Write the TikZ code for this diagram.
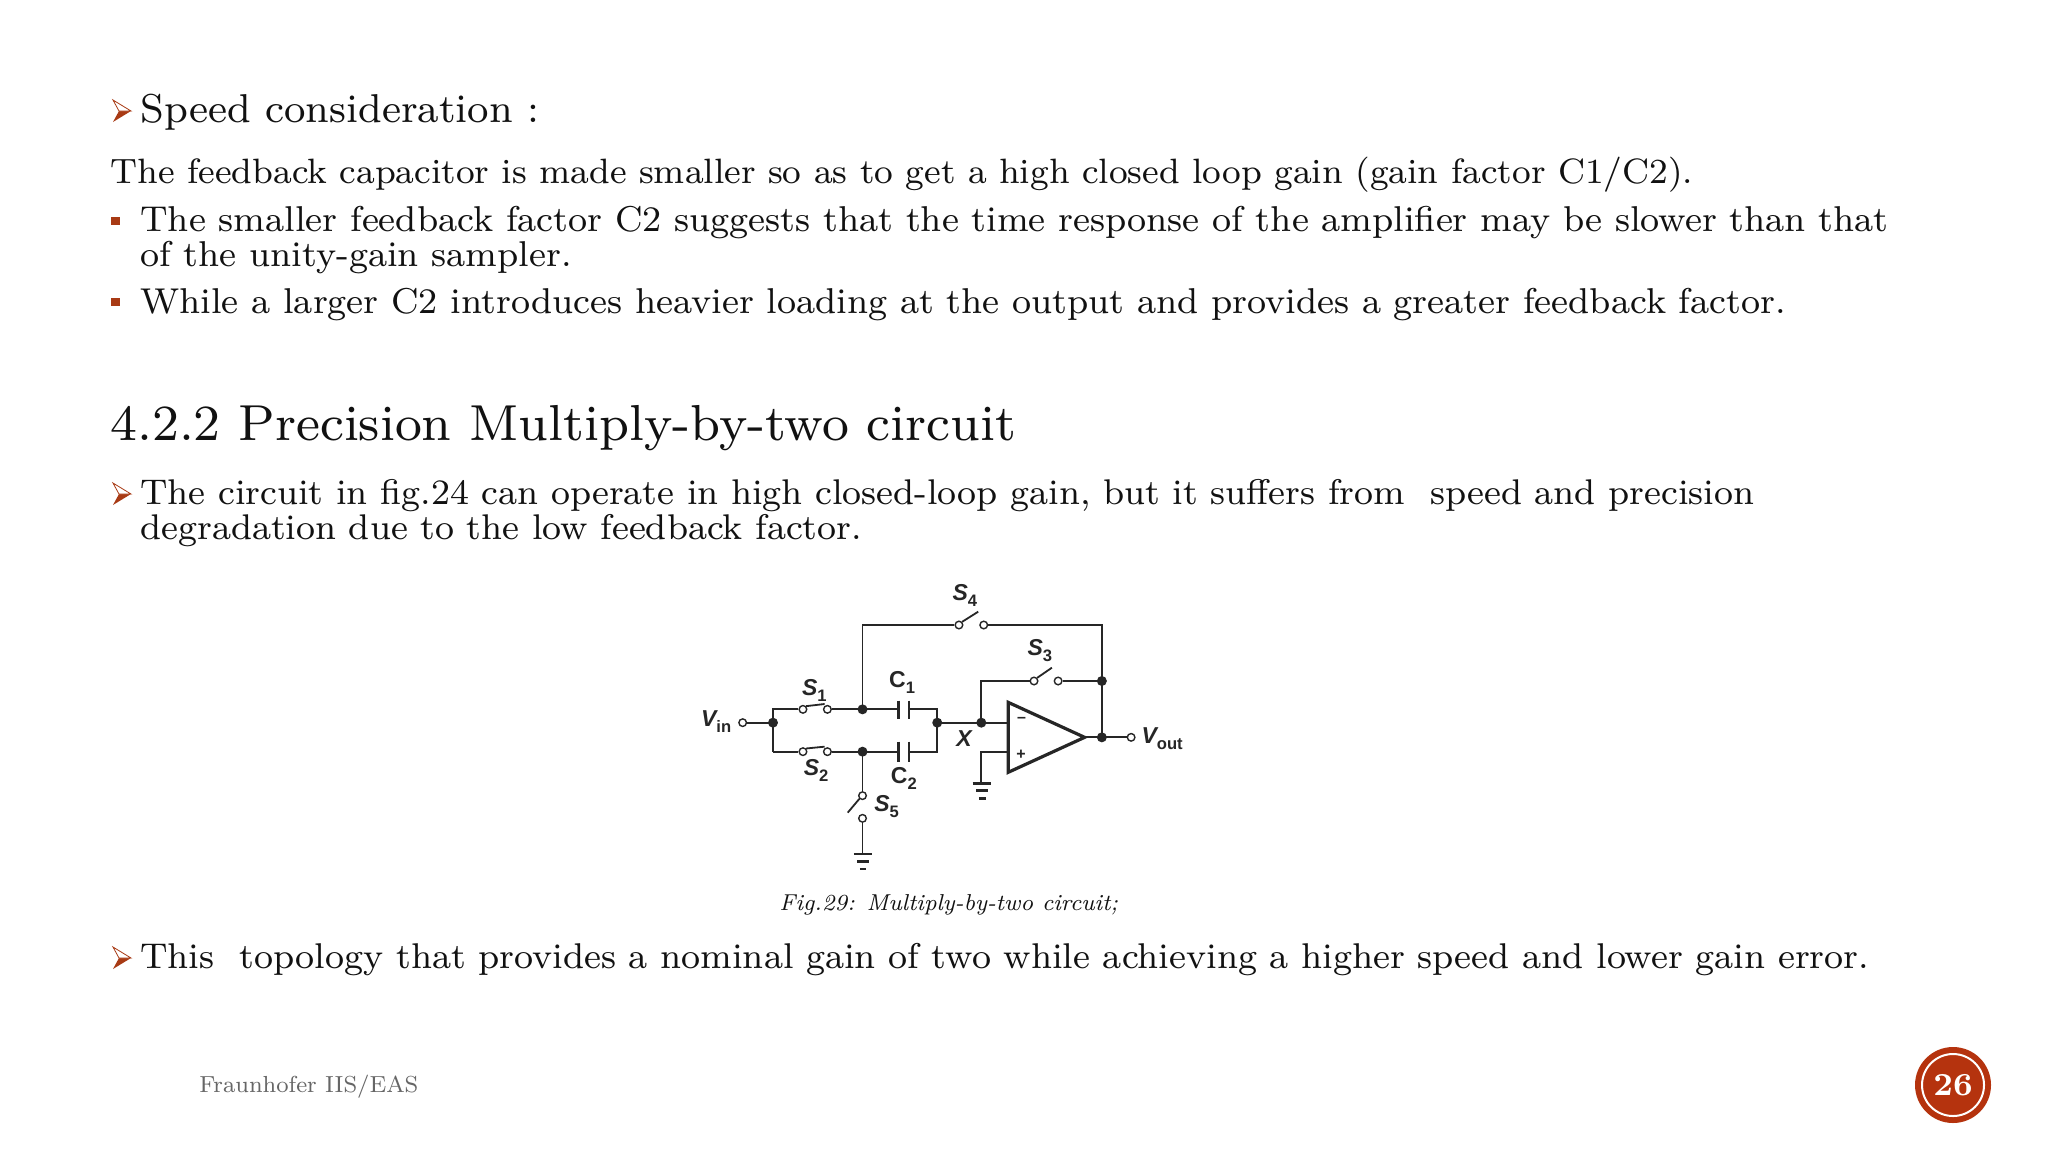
\documentclass[tikz,border=0pt]{standalone}
\usepackage{fontspec}
\setmainfont{lmroman8-regular}[Extension=.otf,ItalicFont=lmroman8-italic,BoldFont=lmroman8-bold]
\newfontfamily\lblfont{Liberation Sans}
\definecolor{rust}{HTML}{A83A14}
\definecolor{badge}{HTML}{B5330E}
\definecolor{ink}{HTML}{111111}
\definecolor{cir}{HTML}{262626}
\newcommand{\clabel}[2]{{\lblfont\bfseries\itshape #1}\raisebox{-.26em}{\lblfont\bfseries\fontsize{8.3}{9}\selectfont #2}}
\newcommand{\cupr}[2]{{\lblfont\bfseries #1}\raisebox{-.26em}{\lblfont\bfseries\fontsize{8.3}{9}\selectfont #2}}
\tikzset{
  txt/.style={anchor=base west,inner sep=0pt,text=ink,font=\fontsize{17.95}{21}\selectfont},
  wire/.style={draw=cir,line width=0.9pt},
  plate/.style={draw=cir,line width=1.3pt},
  dotn/.style={circle,fill=cir,draw=none,minimum size=5pt,inner sep=0pt},
  term/.style={circle,fill=white,draw=cir,line width=0.7pt,minimum size=3.8pt,inner sep=0pt},
  clab/.style={inner sep=0pt,text=cir,font=\fontsize{11.5}{13}\selectfont},
  brownsq/.style={fill=rust,draw=none},
  pics/chevron/.style={code={
    \fill[rust] (-8,11) -- (10,0) -- (-2,0) -- cycle;
    \draw[rust,line width=0.4pt,fill=white,line join=miter] (-8,-11) -- (10,0) -- (-2,0) -- cycle;
  }}
}
\begin{document}
\begin{tikzpicture}[x=0.5pt,y=-0.5pt]
\useasboundingbox (0,0) rectangle (2048,1152);
\fill[white] (0,0) rectangle (2048,1152);
\pic at (121,111) {chevron};
\node[txt,font=\fontsize{20.15}{24}\selectfont] (t1) at (140,122) {Speed consideration :};
\node[txt,font=\fontsize{17.6}{21}\selectfont] (t2) at (110,183) {The feedback capacitor is made smaller so as to get a high closed loop gain (gain factor C1/C2).};
\fill[brownsq] (111,217) rectangle (120,225);
\node[txt] (t3) at (140,231) {The smaller feedback factor C2 suggests that the time response of the amplifier may be slower than that};
\node[txt] (t4) at (140,266) {of the unity-gain sampler.};
\fill[brownsq] (111,298) rectangle (120,306);
\node[txt] (t5) at (140,313) {While a larger C2 introduces heavier loading at the output and provides a greater feedback factor.};
\node[txt,font=\fontsize{25.3}{29}\selectfont] (h) at (110,440) {4.2.2 Precision Multiply-by-two circuit};
\pic at (121,494) {chevron};
\node[txt,font=\fontsize{17.85}{21}\selectfont] (t6) at (140,504) {The circuit in fig.24 can operate in high closed-loop gain, but it suffers from\ \ speed and precision};
\node[txt,font=\fontsize{17.85}{21}\selectfont] (t7) at (140,539) {degradation due to the low feedback factor.};
\node[txt,font=\fontsize{11.5}{14}\selectfont\itshape] (cap) at (779,910) {Fig.29: Multiply-by-two circuit;};
\pic at (121,958) {chevron};
\node[txt,font=\fontsize{17.9}{21}\selectfont] (t8) at (140,968) {This\ \ topology that provides a nominal gain of two while achieving a higher speed and lower gain error.};
\node[txt,text=black!60,font=\fontsize{11.6}{14}\selectfont] (foot) at (199,1092) {Fraunhofer IIS/EAS};
\node[circle,fill=badge,draw=none,minimum size=38pt,inner sep=0pt] (badge) at (1953,1085) {};
\node[circle,draw=white,line width=1pt,minimum size=31pt,inner sep=0pt] (ring) at (1953,1085) {};
\node[inner sep=0pt,text=white,font=\fontsize{16}{18}\selectfont\bfseries] (num) at (1953,1085) {26};
% circuit: coordinates measured on a zoomed crop
\begin{scope}[shift={(680,570)},x=0.5pt/2.904,y=-0.5pt/3]
\coordinate (nVin) at (270,458);
\coordinate (ub) at (270,418);
\coordinate (lb) at (270,545);
\coordinate (nA) at (530,418);
\coordinate (nB) at (530,545);
\coordinate (ur) at (747,418);
\coordinate (lr) at (747,545);
\coordinate (nR) at (747,458);
\coordinate (nX) at (875,458);
\coordinate (nF) at (1225,333);
\coordinate (nO) at (1225,502);
\coordinate (oa) at (953,397);
\coordinate (ob) at (953,607);
\coordinate (oc) at (1175,502);
\coordinate (tl) at (530,165);
\coordinate (tr) at (1225,165);
\coordinate (xu) at (875,333);
\coordinate (pi) at (953,545);
\coordinate (pc) at (875,545);
\coordinate (g1) at (875,640);
\coordinate (g2) at (530,852);
\coordinate (c1l) at (635,418);
\coordinate (c1r) at (665,418);
\coordinate (c2l) at (635,545);
\coordinate (c2r) at (665,545);
\coordinate (mi) at (953,458);
% terminals
\node[term] (tVin) at (182,458) {};
\node[term] (tVout) at (1310,502) {};
\node[term] (s1a) at (357,418) {};
\node[term] (s1b) at (428,418) {};
\node[term] (s2a) at (357,545) {};
\node[term] (s2b) at (428,545) {};
\node[term] (s3a) at (1028,333) {};
\node[term] (s3b) at (1098,333) {};
\node[term] (s4a) at (810,165) {};
\node[term] (s4b) at (882,165) {};
\node[term] (s5a) at (530,677) {};
\node[term] (s5b) at (530,745) {};
% wires
\draw[wire] (tVin) -- (nVin);
\draw[wire] (nR) -- (nX) -- (mi);
\draw[wire] (lb) -- (ub) -- (s1a);
\draw[wire] (s1b) -- (nA) -- (c1l);
\draw[wire] (c1r) -- (ur) -- (lr) -- (c2r);
\draw[wire] (lb) -- (s2a);
\draw[wire] (s2b) -- (nB) -- (c2l);
\draw[wire] (nA) -- (tl) -- (s4a);
\draw[wire] (s4b) -- (tr) -- (nO);
\draw[wire] (nX) -- (xu) -- (s3a);
\draw[wire] (s3b) -- (nF);
\draw[wire] (oc) -- (nO) -- (tVout);
\draw[wire] (nB) -- (s5a);
\draw[wire] (s5b) -- (g2);
\draw[wire] (pi) -- (pc) -- (g1);
% capacitor plates
\draw[plate] (635,392) -- (635,448);
\draw[plate] (665,392) -- (665,448);
\draw[plate] (635,515) -- (635,575);
\draw[plate] (665,515) -- (665,575);
% switch blades
\draw[wire] (s1a.north east) -- (420,402);
\draw[wire] (s2a.north east) -- (420,530);
\draw[wire] (s3a.north east) -- (1080,293);
\draw[wire] (s4a.north east) -- (866,125);
\draw[wire] (s5a.south west) -- (487,728);
% grounds
\draw[plate] (850,640) -- (903,640);
\draw[plate] (860,662) -- (893,662);
\draw[plate] (868,685) -- (888,685);
\draw[plate] (505,852) -- (558,852);
\draw[plate] (515,875) -- (548,875);
\draw[plate] (522,897) -- (540,897);
% opamp
\draw[wire,line width=1.6pt,fill=white,line join=miter] (oa) -- (ob) -- (oc) -- cycle;
% junctions
\foreach \n in {nVin,nA,nB,nR,nX,nF,nO} \node[dotn] at (\n) {};
% labels
\node[clab,font=\fontsize{8}{10}\selectfont\bfseries\lblfont] (mn) at (992,450) {–};
\node[clab,font=\fontsize{8}{10}\selectfont\bfseries\lblfont] (pl) at (990,553) {+};
\node[clab] (Vin) at (105,455) {\clabel{V}{in}};
\node[clab] (Vout) at (1400,505) {\clabel{V}{out}};
\node[clab] (S1) at (390,360) {\clabel{S}{1}};
\node[clab] (S2) at (395,600) {\clabel{S}{2}};
\node[clab] (S3) at (1045,243) {\clabel{S}{3}};
\node[clab] (S4) at (827,75) {\clabel{S}{4}};
\node[clab] (S5) at (600,710) {\clabel{S}{5}};
\node[clab] (C1) at (645,338) {\cupr{C}{1}};
\node[clab] (C2) at (650,625) {\cupr{C}{2}};
\node[clab,font=\fontsize{11.5}{13}\selectfont\lblfont\bfseries\itshape] (X) at (825,505) {X};
\end{scope}
\end{tikzpicture}
\end{document}
